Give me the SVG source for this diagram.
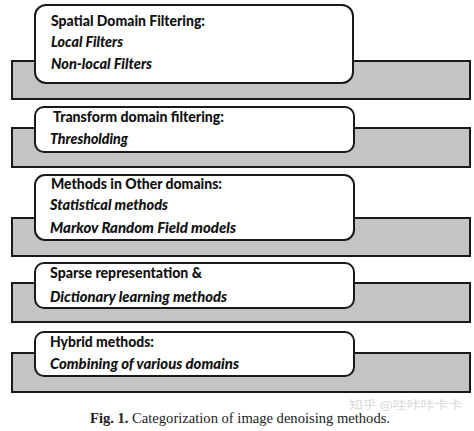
<svg xmlns="http://www.w3.org/2000/svg" width="474" height="431" viewBox="0 0 474 431">
<style>
.bar{fill:#c4c4c4;stroke:#1a1a1a;stroke-width:2}
.box{fill:#fff;stroke:#1a1a1a;stroke-width:2}
.h{font-family:Lato,"Open Sans",sans-serif;font-weight:900;font-size:15px;fill:#111}
.i{font-family:Lato,"Open Sans",sans-serif;font-weight:900;font-style:italic;font-size:15px;fill:#111}
.cap{font-family:"Liberation Serif",serif;font-size:14px;fill:#222}
.wm{font-family:"Noto Sans CJK SC",sans-serif;font-size:11px;fill:#d8d8d8}
</style>
<rect x="0" y="0" width="474" height="431" fill="#fff"/>
<g id="node1">
<rect class="bar" x="12" y="61" width="458" height="38"/>
<rect class="box" x="35" y="5" width="318" height="78" rx="11"/>
<text class="h" x="51" y="26" textLength="154" lengthAdjust="spacingAndGlyphs">Spatial Domain Filtering:</text>
<text class="i" x="51" y="47" textLength="72" lengthAdjust="spacingAndGlyphs">Local Filters</text>
<text class="i" x="51" y="69" textLength="101" lengthAdjust="spacingAndGlyphs">Non-local Filters</text>
</g>
<g id="node2">
<rect class="bar" x="12" y="128" width="458" height="39"/>
<rect class="box" x="35" y="107" width="319" height="45" rx="9"/>
<text class="h" x="53" y="122" textLength="171" lengthAdjust="spacingAndGlyphs">Transform domain filtering:</text>
<text class="i" x="50" y="144" textLength="78" lengthAdjust="spacingAndGlyphs">Thresholding</text>
</g>
<g id="node3">
<rect class="bar" x="12" y="218" width="458" height="38"/>
<rect class="box" x="35" y="175" width="319" height="65" rx="10"/>
<text class="h" x="51" y="189" textLength="171" lengthAdjust="spacingAndGlyphs">Methods in Other domains:</text>
<text class="i" x="50" y="210" textLength="118" lengthAdjust="spacingAndGlyphs">Statistical methods</text>
<text class="i" x="50" y="233" textLength="186" lengthAdjust="spacingAndGlyphs">Markov Random Field models</text>
</g>
<g id="node4">
<rect class="bar" x="12" y="283" width="458" height="39"/>
<rect class="box" x="35" y="263" width="319" height="45" rx="9"/>
<text class="h" x="50" y="278" textLength="152" lengthAdjust="spacingAndGlyphs">Sparse representation &amp;</text>
<text class="i" x="50" y="302" textLength="177" lengthAdjust="spacingAndGlyphs">Dictionary learning methods</text>
</g>
<g id="node5">
<rect class="bar" x="12" y="353" width="458" height="39"/>
<rect class="box" x="35" y="332" width="319" height="44" rx="9"/>
<text class="h" x="50" y="347" textLength="104" lengthAdjust="spacingAndGlyphs">Hybrid methods:</text>
<text class="i" x="50" y="369" textLength="189" lengthAdjust="spacingAndGlyphs">Combining of various domains</text>
</g>
<g id="connectors"></g>
<text class="wm" x="349" y="409" textLength="113" lengthAdjust="spacingAndGlyphs">知乎 @哇咔咔卡卡</text>
<text class="cap" x="90" y="423" textLength="300" lengthAdjust="spacingAndGlyphs"><tspan font-weight="bold">Fig. 1.</tspan>  Categorization of image denoising methods.</text>
</svg>
